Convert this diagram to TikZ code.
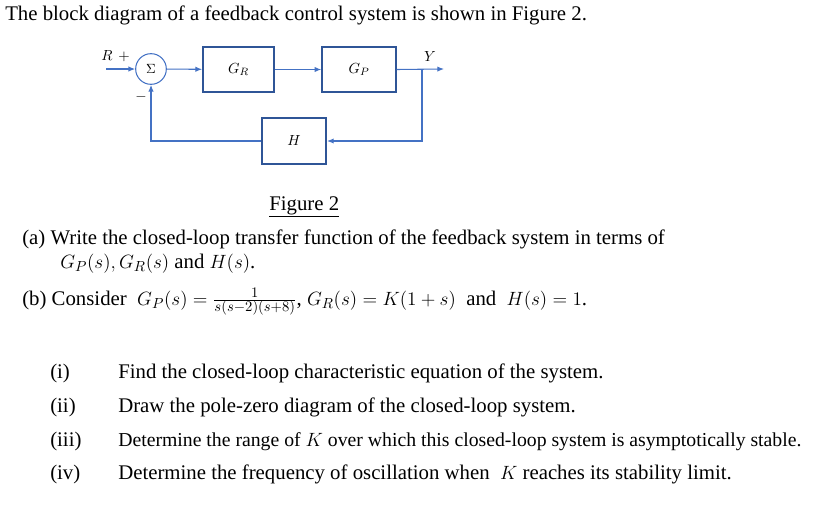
\documentclass[tikz,border=0pt]{standalone}
\usepackage{fontspec}
\setmainfont{Liberation Serif}
\usetikzlibrary{arrows.meta}
\definecolor{ln}{RGB}{68,114,196}
\definecolor{bx}{RGB}{47,85,151}
\begin{document}
\begin{tikzpicture}[x=0.75pt,y=-0.75pt,
  sig/.style={draw=ln,line width=0.8pt,-{Latex[length=5pt,width=4pt]}},
  txt/.style={anchor=base west,inner sep=0pt,font=\fontsize{15.6pt}{18pt}\selectfont},
  lbl/.style={inner sep=0pt,font=\fontsize{10.5pt}{11pt}\selectfont}]
\useasboundingbox (0,0) rectangle (821,518);
\node[txt] (t0) at (5,20) {The block diagram of a feedback control system is shown in Figure 2.};
% diagram
\node[draw=ln,line width=0.8pt,circle,minimum size=23pt,inner sep=0pt,font=\fontsize{10pt}{11pt}\selectfont] (s) at (151,69) {$\Sigma$};
\node[draw=bx,line width=1.6pt,minimum width=53pt,minimum height=34pt,font=\fontsize{11pt}{12pt}\selectfont] (gr) at (238.5,69.5) {$G_R$};
\node[draw=bx,line width=1.6pt,minimum width=55pt,minimum height=34pt,font=\fontsize{11pt}{12pt}\selectfont] (gp) at (359,69.5) {$G_P$};
\node[draw=bx,line width=1.6pt,minimum width=48pt,minimum height=34pt,font=\fontsize{11pt}{12pt}\selectfont] (h) at (294,141) {$H$};
\coordinate (in) at (106,69);
\coordinate (br) at (422,69);
\coordinate (out) at (444,69);
\draw[sig] (in) -- (s);
\draw[sig] (s) -- (gr);
\draw[sig] (gr) -- (gp);
\draw[sig] (gp.east) -- (out);
\draw[sig] (br) |- (h.east);
\draw[sig] (h.west) -| (s.south);
\node[lbl] (r) at (107,56) {$R$};
\node[lbl] (p) at (124,57) {$+$};
\node[lbl] (m) at (141,97) {$-$};
\node[lbl] (y) at (430,57) {$Y$};
% texts
\node[txt] (f2) at (269,210) {\underline{Figure 2}};
\node[txt] (a1) at (22,244) {(a) Write the closed-loop transfer function of the feedback system in terms of};
\node[txt] (a2) at (60,268) {$G_P(s), G_R(s)$ and $H(s)$.};
\node[txt] (b1) at (22,305) {(b) Consider \ $G_P(s) = \frac{1}{s(s-2)(s+8)}$, $G_R(s) = K(1+s)$ \ and \ $H(s) = 1$.};
\node[txt] (i1) at (50,378) {(i)};
\node[txt] (i2) at (118,378) {Find the closed-loop characteristic equation of the system.};
\node[txt] (ii1) at (50,412) {(ii)};
\node[txt] (ii2) at (118,412) {Draw the pole-zero diagram of the closed-loop system.};
\node[txt] (iii1) at (50,446) {(iii)};
\node[txt,font=\fontsize{14.8pt}{18pt}\selectfont] (iii2) at (118,446) {Determine the range of $K$ over which this closed-loop system is asymptotically stable.};
\node[txt] (iv1) at (50,479) {(iv)};
\node[txt] (iv2) at (118,479) {Determine the frequency of oscillation when \ $K$ reaches its stability limit.};
\end{tikzpicture}
\end{document}
